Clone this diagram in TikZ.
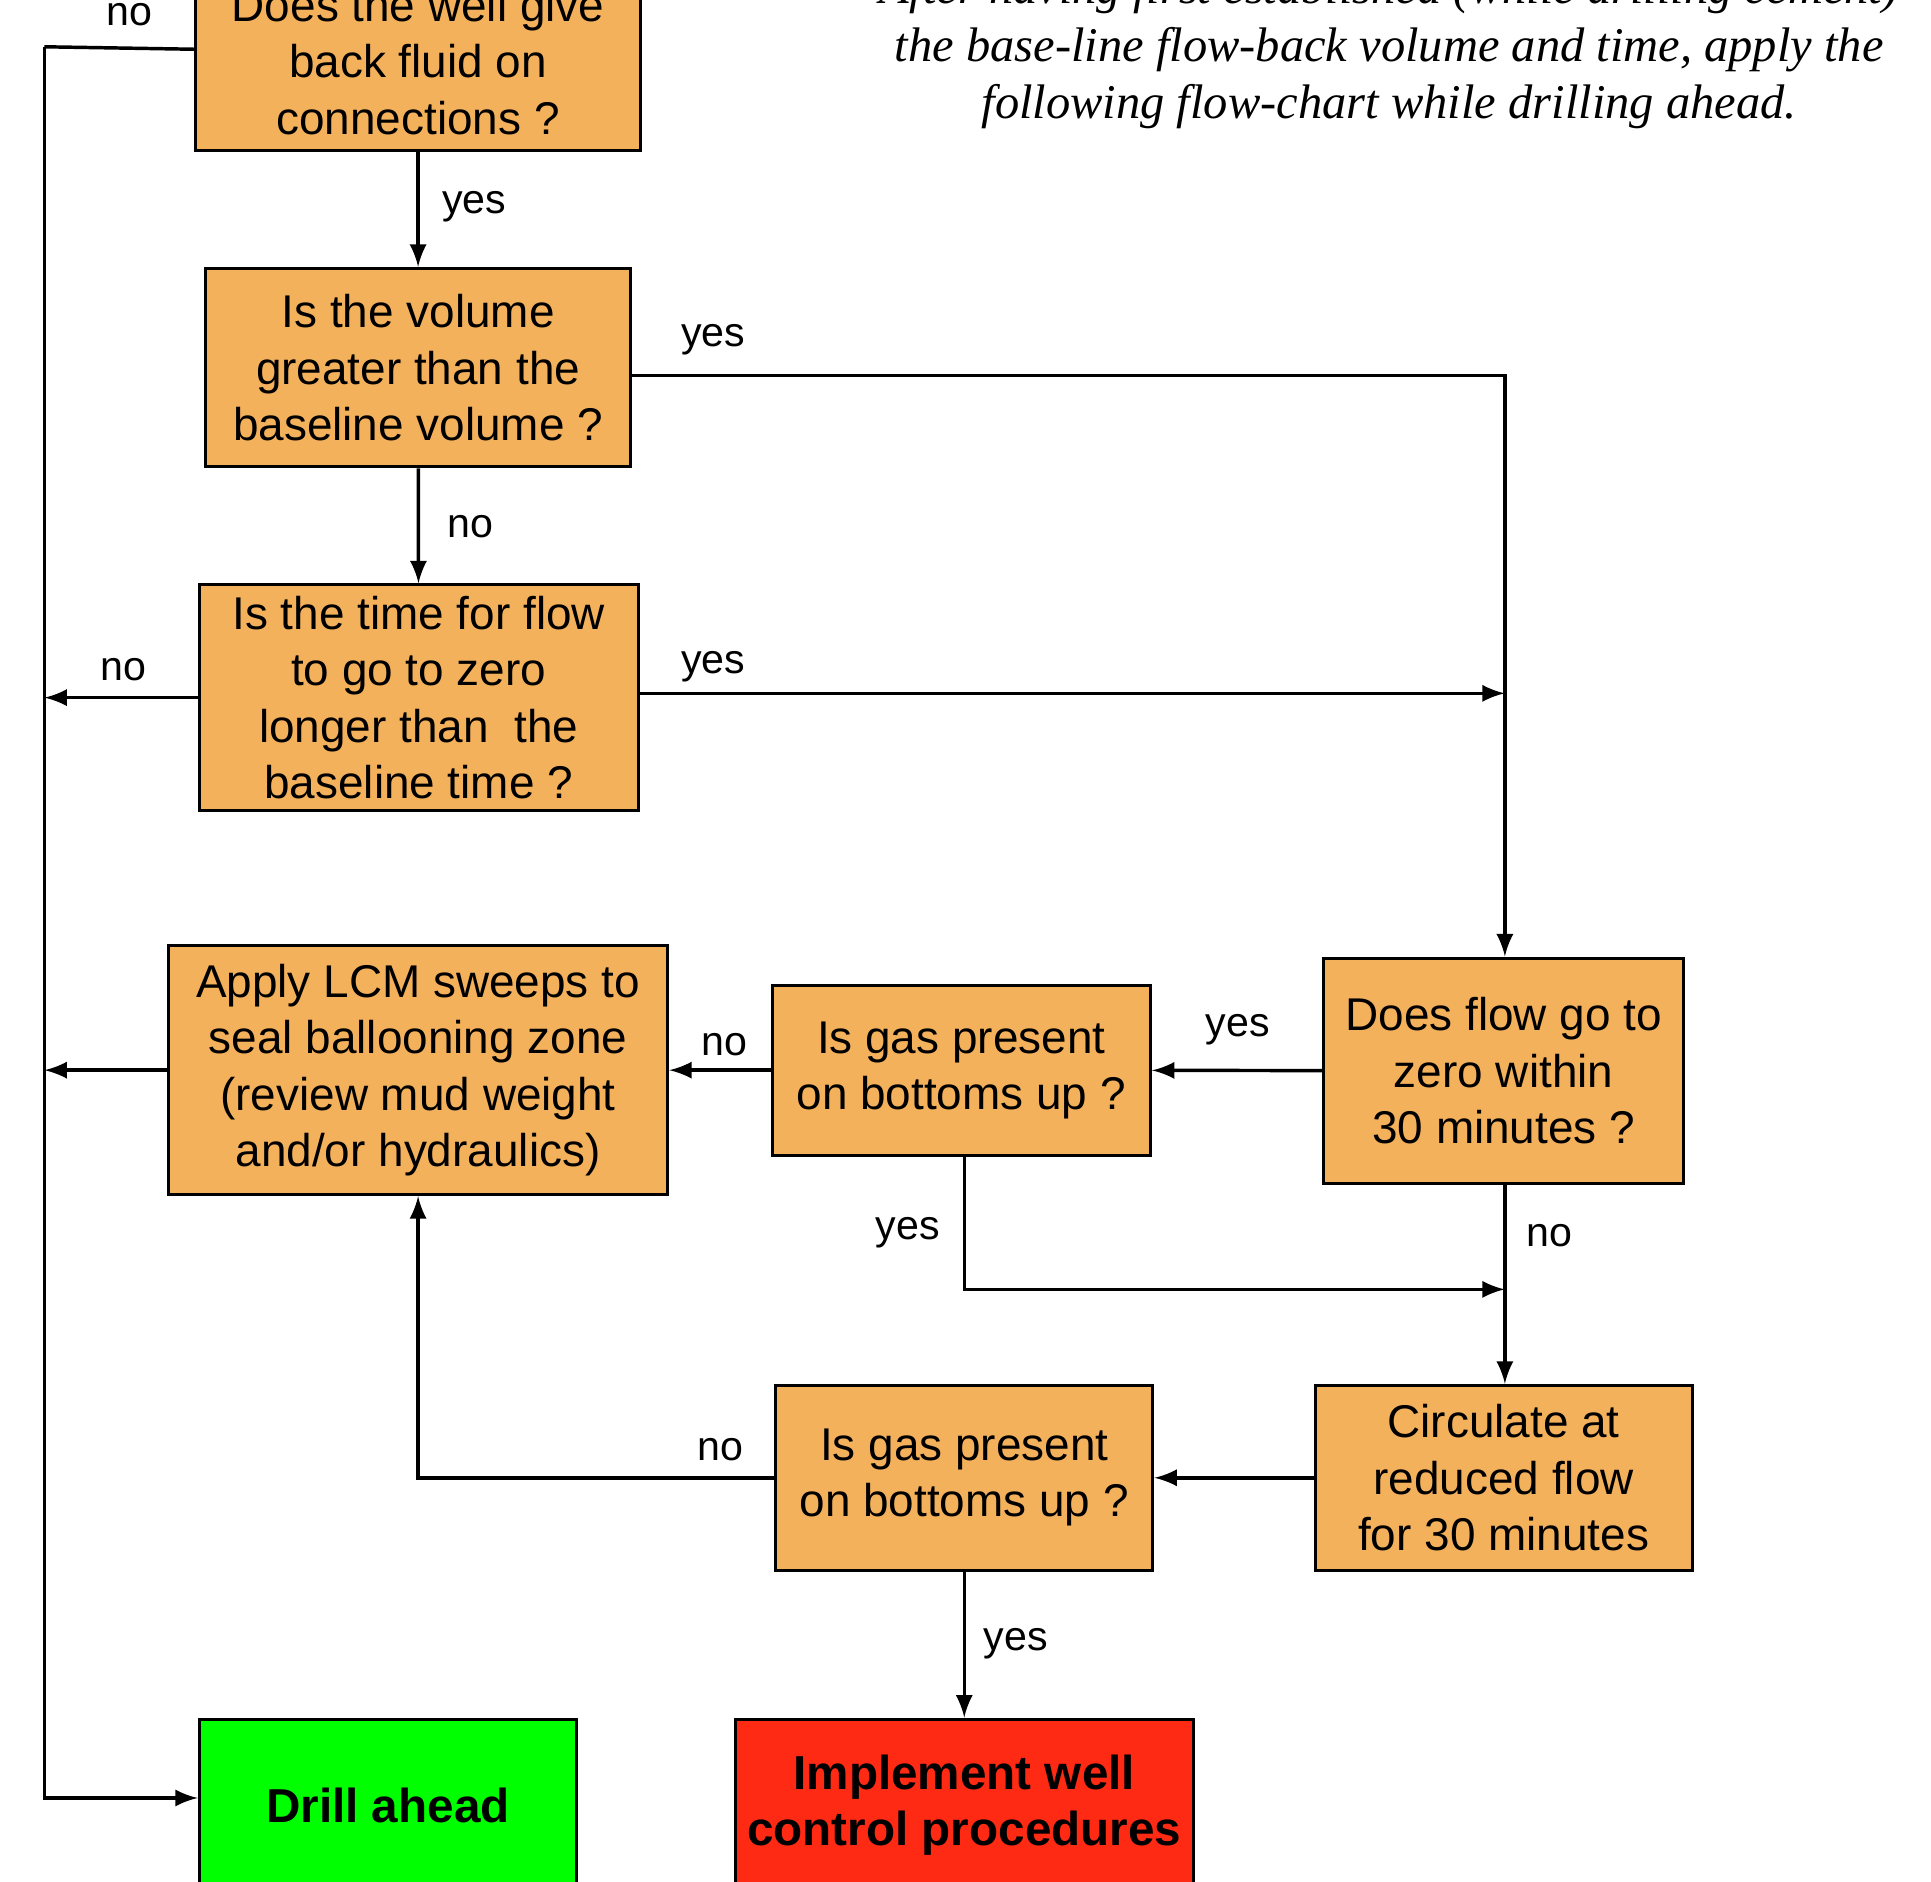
\documentclass[tikz,border=0pt]{standalone}
\usepackage{fontspec}
\setmainfont{Liberation Sans}
\newfontfamily\notefont{Liberation Serif}
\usetikzlibrary{arrows,shapes,calc,positioning}
\definecolor{boxorange}{HTML}{F4B15C}
\definecolor{boxgreen}{HTML}{00FF00}
\definecolor{boxred}{HTML}{FF2A14}
\tikzstyle{flowbox}=[rectangle, draw, fill=boxorange, line width=0.7pt,
                    align=center, inner sep=0pt,
                    font=\fontsize{10.6}{13}\selectfont]
\tikzstyle{edge}  =[line width=0.8pt, >=latex]
\tikzstyle{tag}   =[inner sep=1pt, fill=none, draw=none,
                    font=\fontsize{9.5}{12}\selectfont]

\begin{document}
\begin{tikzpicture}[x=0.01cm, y=-0.01cm, edge]
            \useasboundingbox (0,0) rectangle (1568,1528);
            % boxes
            \node (well) [flowbox, minimum width=3.61cm, minimum height=1.45cm] at (339.5,50) {Does the well give\\back fluid on\\connections ?};
            \node (volume) [flowbox, minimum width=3.45cm, minimum height=1.61cm] at (339.5,298.5) {Is the volume\\greater than the\\baseline volume ?};
            \node (flowtime) [flowbox, minimum width=3.56cm, minimum height=1.83cm] at (340,566.5) {Is the time for flow\\to go to zero\\longer than\ \ the\\baseline time ?};
            \node (lcm) [flowbox, minimum width=4.05cm, minimum height=2.02cm] at (339.5,869) {Apply LCM sweeps to\\seal ballooning zone\\(review mud weight\\and/or hydraulics)};
            \node (gasA) [flowbox, minimum width=3.07cm, minimum height=1.38cm] at (780.5,869) {Is gas present\\on bottoms up ?};
            \node (flowzero) [flowbox, minimum width=2.92cm, minimum height=1.83cm] at (1221,869.5) {Does flow go to\\zero within\\30 minutes ?};
            \node (circulate) [flowbox, minimum width=3.06cm, minimum height=1.50cm] at (1221,1200) {Circulate at\\reduced flow\\for 30 minutes};
            \node (gasB) [flowbox, minimum width=3.06cm, minimum height=1.50cm] at (783,1200) {Is gas present\\on bottoms up ?};
            \node (drill) [flowbox, fill=boxgreen, minimum width=3.06cm, minimum height=1.40cm, font=\fontsize{11}{13}\selectfont\bfseries] at (315,1466) {Drill ahead};
            \node (control) [flowbox, fill=boxred, minimum width=3.72cm, minimum height=1.40cm, font=\fontsize{11}{13}\selectfont\bfseries] at (783,1466) {Implement well\\control procedures};
            \node (note) [tag, align=center, font=\notefont\itshape\fontsize{11.2}{13.2}\selectfont] at (1128,40) {After having first established (while drilling cement)\\the base-line flow-back volume and time, apply the\\following flow-chart while drilling ahead.};
            % helper points
            \coordinate (top) at (36,38);
            \coordinate (bot) at (36,1460);
            \coordinate (side) at (1222,305);
            \coordinate (mid) at (783,1047);
            \coordinate (join) at (1222,1047);
            % connectors
            \draw (well.west |- 0,40) -- (top);
            \draw[->] (top) -- (bot) -- (drill.west |- bot);
            \draw[->] (well) -- (volume);
            \draw[->] (volume) -- (flowtime);
            \draw[->] (volume.east |- side) -- (side) -- (flowzero.north -| side);
            \draw[->] (flowtime.east |- 0,563) -- (1222,563);
            \draw[->] (flowtime.west) -- (36,566.5);
            \draw[->] (lcm.west) -- (36,869);
            \draw[->] (flowzero) -- (gasA);
            \draw[->] (gasA) -- (lcm);
            \draw[->] (gasA.south -| mid) -- (mid) -- (join);
            \draw[->] (flowzero.south -| join) -- (circulate.north -| join);
            \draw[->] (circulate) -- (gasB);
            \draw[->] (gasB.west) -- (339.5,1200) -- (lcm.south);
            \draw[->] (gasB.south) -- (control.north);
            % labels
            \node [tag] at (105,12) {no};
            \node [tag] at (385,168) {yes};
            \node [tag] at (382,428) {no};
            \node [tag] at (579,276) {yes};
            \node [tag] at (579,541) {yes};
            \node [tag] at (100,544) {no};
            \node [tag] at (1005,836) {yes};
            \node [tag] at (588,848) {no};
            \node [tag] at (737,1001) {yes};
            \node [tag] at (1258,1003) {no};
            \node [tag] at (585,1177) {no};
            \node [tag] at (825,1335) {yes};
\end{tikzpicture}
\end{document}
